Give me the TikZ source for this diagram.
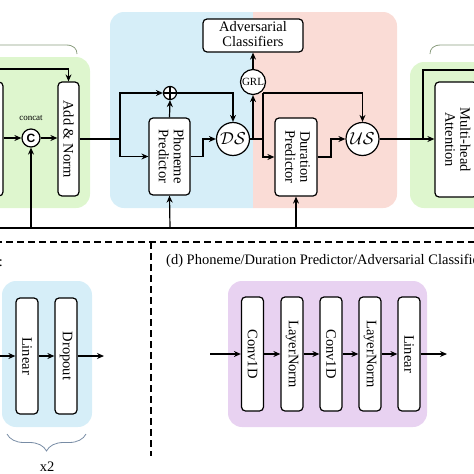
\documentclass[tikz,border=0pt]{standalone}
\usepackage{fontspec}
\setmainfont{Liberation Serif}
\newfontfamily\sansb{Liberation Sans}
\usepackage{amsmath,amssymb}
\usepackage{tikz}
\usetikzlibrary{calc}
\usetikzlibrary{shapes}
\usetikzlibrary{arrows.meta}
\usetikzlibrary{decorations.pathreplacing}
\definecolor{greenbg}{RGB}{222,246,206}
\definecolor{bluebg}{RGB}{214,238,248}
\definecolor{redbg}{RGB}{250,220,214}
\definecolor{purplebg}{RGB}{232,210,241}
\definecolor{bracegreen}{RGB}{140,158,128}
\definecolor{braceblue}{RGB}{120,140,165}
\tikzset{
  block/.style={draw, line width=1.2pt, rounded corners=4pt, fill=white, inner sep=0pt},
  opcirc/.style={draw, line width=1.2pt, circle, fill=white, inner sep=0pt},
  arr/.style={line width=1.2pt, -{Stealth[length=7pt,width=6pt]}},
  ln/.style={line width=1.2pt},
  dashline/.style={line width=1.2pt, dash pattern=on 7pt off 4pt},
}
\newcommand{\vblock}[6]{\node[block, minimum width=#4pt, minimum height=#5pt] (#1) at ( #2 , #3 ) {\rotatebox{-90}{#6}};}
\newcommand{\twol}[2]{\begin{tabular}{@{}c@{}}#1\\[-1pt]#2\end{tabular}}
\newcommand{\panel}[5]{\fill[#5, rounded corners=14pt] ( #1 , #2 ) rectangle ( #3 , #4 );}

\begin{document}
\begin{tikzpicture}[x=1pt, y=-1pt, font=\fontsize{14.5}{16}\selectfont]
        \useasboundingbox (0,0) rectangle (474,474);
        % panels
        \panel{-30}{57}{90}{208}{greenbg}
        \panel{410}{62}{530}{208}{greenbg}
        \begin{scope}
          \clip (100,0) rectangle (253,220);
          \panel{110}{12}{397}{208}{bluebg}
        \end{scope}
        \begin{scope}
          \clip (253,0) rectangle (410,220);
          \panel{110}{12}{397}{208}{redbg}
        \end{scope}
        \panel{2}{281}{92}{427}{bluebg}
        \panel{228}{281}{427}{427}{purplebg}

        % braces
        \draw[bracegreen, line width=0.8pt] (-5,45) -- (66,45) .. controls (74,45) and (77,49) .. (77,54);
        \draw[bracegreen, line width=0.8pt] (430,54) .. controls (430,49) and (433,45) .. (441,45) -- (480,45);
        \draw[braceblue, line width=0.8pt, decorate, decoration={brace, mirror, amplitude=17pt}] (7,434) -- (86,434);

        % blocks top
        \vblock{enc}{-8}{139}{22}{114}{}
        \vblock{addnorm}{68.5}{139}{21}{114}{Add \& Norm}
        \vblock{phon}{169.5}{156.5}{41}{77}{\twol{Phoneme}{Predictor}}
        \vblock{dur}{296}{157}{42}{78}{\twol{Duration}{Predictor}}
        \vblock{mha}{456}{139.5}{42}{115}{\twol{Multi-head}{Attention}}
        \node[block, minimum width=100pt, minimum height=33pt] (adv) at (253,35.5) {\twol{Adversarial}{Classifiers}};

        % operators
        \node[opcirc, minimum size=18pt] (cat) at (31,138) {\sansb\bfseries\fontsize{12}{12}\selectfont C};
        \node[font=\fontsize{9}{10}\selectfont] (catl) at (31,118) {concat};
        \node[opcirc, minimum size=13pt] (plus) at (170,93) {};
        \draw[line width=1.2pt] (plus.north) -- (plus.south) (plus.west) -- (plus.east);
        \node[opcirc, minimum size=33pt, font=\fontsize{16}{16}\selectfont] (ds) at (233,139) {$\mathcal{DS}$};
        \node[opcirc, minimum size=25pt, font=\fontsize{11}{12}\selectfont] (grl) at (253,82) {GRL};
        \node[opcirc, minimum size=33pt, font=\fontsize{16}{16}\selectfont] (us) at (362.5,139) {$\mathcal{US}$};

        % free ends
        \coordinate (inTop) at (-10,69);
        \coordinate (botL) at (-10,228);
        \coordinate (botR) at (484,228);
        \coordinate (outTop) at (484,70);

        % connectors top
        \draw[ln] (botL) -- (botR);
        \draw[arr] (inTop) -| (addnorm.north);
        \draw[arr] (enc.east |- cat) -- (cat.west);
        \draw[arr] (cat.east) -- (addnorm.west |- cat);
        \draw[arr] (31,228) -- (cat.south);
        \draw[ln] (addnorm.east) -- (120,139);
        \draw[arr] (120,139) |- (plus.west);
        \draw[arr] (120,139) |- (phon.west);
        \draw[arr] (phon.north) -- (plus.south);
        \draw[arr] (plus.east) -| (ds.north);
        \draw[arr] (phon.east) -- (203,156.5) |- (ds.west);
        \draw[ln] (ds.east) -- (263,139);
        \draw[arr] (253,139) -- (grl.south);
        \draw[arr] (grl.north) -- (adv.south);
        \draw[arr] (263,93) |- (dur.west);
        \draw[arr] (263,93) -| (us.north);
        \draw[arr] (dur.east) -- (331,157) |- (us.west);
        \draw[arr] (us.east) -- (mha.west |- us);
        \draw[ln] (423,139) |- (outTop);
        \draw[arr] (170,228) -- (phon.south);
        \draw[arr] (296,228) -- (dur.south);

        % separators
        \draw[dashline] (-5,242) -- (480,242);
        \draw[dashline] (151,242) -- (151,456);
        \node[anchor=east, inner sep=0pt] (clab) at (3,263) {:};

        % (c) block
        \vblock{lin}{27}{356}{22}{116}{Linear}
        \vblock{drop}{66}{356}{22}{116}{Dropout}
        \coordinate (cin) at (-5,356);
        \coordinate (cout) at (104,356);
        \draw[arr] (cin) -- (lin.west);
        \draw[arr] (lin.east) -- (drop.west);
        \draw[arr] (drop.east) -- (cout);
        \node (rep) at (47,467) {x2};

        % (d) block
        \node[anchor=west, inner sep=0pt] (dlab) at (166,261) {(d) Phoneme/Duration Predictor/Adversarial Classifiers};
        \vblock{convA}{252.5}{354}{22}{114}{Conv1D}
        \vblock{normA}{292}{354}{22}{114}{LayerNorm}
        \vblock{convB}{331}{354}{22}{114}{Conv1D}
        \vblock{normB}{370}{354}{22}{114}{LayerNorm}
        \vblock{linB}{409}{354}{22}{114}{Linear}
        \coordinate (din) at (210,354);
        \coordinate (dout) at (447,354);
        \draw[arr] (din) -- (convA.west);
        \draw[arr] (convA.east) -- (normA.west);
        \draw[arr] (normA.east) -- (convB.west);
        \draw[arr] (convB.east) -- (normB.west);
        \draw[arr] (normB.east) -- (linB.west);
        \draw[arr] (linB.east) -- (dout);
\end{tikzpicture}
\end{document}
